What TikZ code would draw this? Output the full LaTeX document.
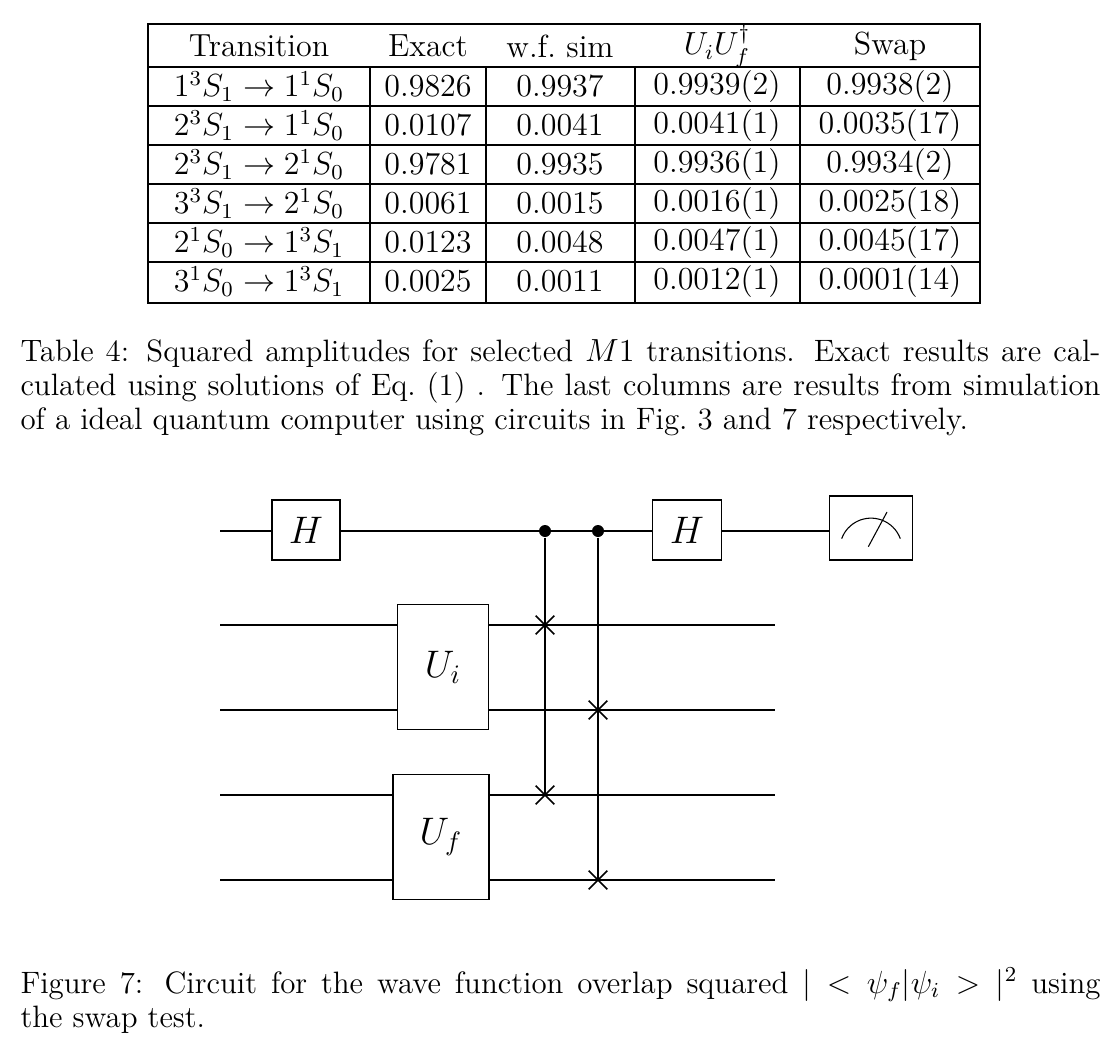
\documentclass[tikz,border=0pt]{standalone}
\usepackage{amsmath}
\begin{document}
\begin{tikzpicture}[x=0.375pt,y=-0.375pt,
  tl/.style={font=\large,inner sep=0pt},
  captext/.style={anchor=base west,inner sep=0pt,font=\fontsize{11.6}{14}\selectfont},
  gate/.style={draw,fill=white,inner sep=0pt,font=\Large},
  wire/.style={line width=0.6pt},
  ctrl/.style={circle,fill=black,inner sep=0pt,minimum size=4.5pt},
  xs/.style={inner sep=0pt,minimum size=0pt}]
\useasboundingbox (0,0) rectangle (1120,1056);
% table
\draw (148,24) rectangle (980,303);
\draw (148,67) -- (980,67);
\foreach \x in {370,486,635,800}{\draw (\x,67) -- (\x,303);}
\foreach \y in {106,145,184,223,262}{\draw (148,\y) -- (980,\y);}
\def\cols{259/Transition,428/Exact,560/w.f.\ sim,717/$U_iU_f^\dagger$,890/Swap}
\foreach \x/\t in \cols {\node[tl] (h\x) at (\x,46) {\t};}
\foreach \tr/\a/\b/\c/\d [count=\i] in {
 {$1^3S_1\to1^1S_0$}/0.9826/0.9937/0.9939(2)/0.9938(2),
 {$2^3S_1\to1^1S_0$}/0.0107/0.0041/0.0041(1)/0.0035(17),
 {$2^3S_1\to2^1S_0$}/0.9781/0.9935/0.9936(1)/0.9934(2),
 {$3^3S_1\to2^1S_0$}/0.0061/0.0015/0.0016(1)/0.0025(18),
 {$2^1S_0\to1^3S_1$}/0.0123/0.0048/0.0047(1)/0.0045(17),
 {$3^1S_0\to1^3S_1$}/0.0025/0.0011/0.0012(1)/0.0001(14)}{
  \pgfmathsetmacro\yy{67+39*\i-19.5}
  \node[tl] (r\i a) at (259,\yy) {\tr};
  \node[tl] (r\i b) at (428,\yy) {\a};
  \node[tl] (r\i c) at (560,\yy) {\b};
  \node[tl] (r\i d) at (717,\yy) {\c};
  \node[tl] (r\i e) at (890,\yy) {\d};
}
\node[captext] (c1) at (20,361) {\hbox to 405pt{Table 4: Squared amplitudes for selected $M1$ transitions. Exact results are cal-}};
\node[captext] (c2) at (20,395) {\hbox to 405pt{culated using solutions of Eq.\ (1)\ . The last columns are results from simulation}};
\node[captext] (c3) at (20,429) {of a ideal quantum computer using circuits in Fig.\ 3 and 7 respectively.};
% circuit
\coordinate (w0s) at (220,531); \coordinate (w0e) at (830,531);
\foreach \y [count=\i] in {625,710,795,880}{
  \coordinate (w\i s) at (220,\y); \coordinate (w\i e) at (775,\y);
  \draw[wire] (w\i s) -- (w\i e);}
\draw[wire] (w0s) -- (w0e);
\node[gate,minimum width=25.5pt,minimum height=22.5pt] (H1) at (306,530) {$H$};
\node[gate,minimum width=26pt,minimum height=22.5pt] (H2) at (687,530) {$H$};
\node[gate,minimum width=34pt,minimum height=47pt] (Ui) at (443,667) {$U_i$};
\node[gate,minimum width=36pt,minimum height=47pt] (Uf) at (441,837) {$U_f$};
\node[draw,fill=white,minimum width=31pt,minimum height=24pt,inner sep=0pt] (M) at (871,528) {};
\draw ([xshift=-11pt,yshift=-4pt]M.center) arc (160:20:11.7pt);
\draw ([xshift=-1pt,yshift=-7pt]M.center) -- ([xshift=6pt,yshift=6pt]M.center);
\node[ctrl] (c1a) at (545,531) {};
\node[ctrl] (c2a) at (598,531) {};
\node[xs] (s1a) at (545,625) {}; \node[xs] (s1b) at (545,795) {};
\node[xs] (s2a) at (598,710) {}; \node[xs] (s2b) at (598,880) {};
\draw[wire] (c1a) -- (s1b);
\draw[wire] (c2a) -- (s2b);
\foreach \n in {s1a,s1b,s2a,s2b}{
  \draw[wire] ([shift={(-3.5pt,-3.5pt)}]\n.center) -- ([shift={(3.5pt,3.5pt)}]\n.center);
  \draw[wire] ([shift={(-3.5pt,3.5pt)}]\n.center) -- ([shift={(3.5pt,-3.5pt)}]\n.center);}
\node[captext] (f1) at (20,993) {\hbox to 405pt{Figure 7: Circuit for the wave function overlap squared $|<\psi_f|\psi_i>|^2$ using}};
\node[captext] (f2) at (20,1027) {the swap test.};
\end{tikzpicture}
\end{document}
